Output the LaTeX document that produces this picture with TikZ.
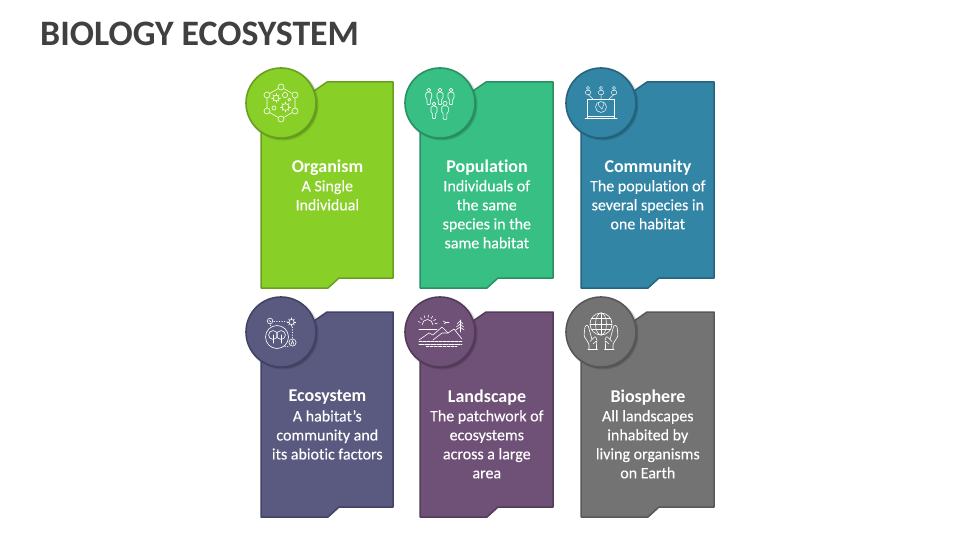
\documentclass[tikz,border=0pt]{standalone}
\usepackage{fontspec}
\setmainfont[Ligatures=NoCommon]{Carlito}
\newfontfamily\bodyfont[Ligatures=NoCommon,FakeBold=0.15]{Carlito}
\usetikzlibrary{calc}
\definecolor{cA}{HTML}{88D028}\definecolor{bA}{HTML}{6A9E20}
\definecolor{cB}{HTML}{38C084}\definecolor{bB}{HTML}{2A8F63}
\definecolor{cC}{HTML}{3385A6}\definecolor{bC}{HTML}{25647E}
\definecolor{cD}{HTML}{5A5A80}\definecolor{bD}{HTML}{424266}
\definecolor{cE}{HTML}{6F5076}\definecolor{bE}{HTML}{533C59}
\definecolor{cF}{HTML}{737373}\definecolor{bF}{HTML}{585858}
\definecolor{titlecol}{HTML}{404040}
\tikzset{
  ico/.style={draw=white,line width=0.6pt,line join=round,line cap=round},
  badge/.style={circle,minimum size=70pt,inner sep=0pt,line width=1.6pt},
  head/.style={text=white,font=\fontsize{18}{19}\selectfont\bfseries,inner sep=0pt,anchor=center},
  bodytext/.style={text=white,font=\fontsize{16}{19}\selectfont\bodyfont,inner sep=0pt,align=center,anchor=north},
}
% person: x, y, scale
\newcommand\personico[3]{%
  \begin{scope}[shift={(#1,#2)},scale=#3]
    \draw[ico] (0,-6) circle (1.9);
    \draw[ico,rounded corners=.7pt] (-1.5,-3.8) -- (1.5,-3.8) -- (3,-2.8) -- (3,2.2) -- (1.8,2.6) -- (1.6,8.5) -- (-1.6,8.5) -- (-1.8,2.6) -- (-3,2.2) -- (-3,-2.8) -- cycle;
  \end{scope}}
% gear: x, y, radius
\newcommand\gearico[3]{%
  \draw[ico] (#1,#2) circle (#3);
  \foreach \ang in {0,45,...,315}{\draw[ico] ($(#1,#2)+(\ang:#3)$) -- ($(#1,#2)+(\ang:#3+1.6)$);}}
\newcommand\icoOrganism{%
  \draw[ico] (0,-16) -- (14,-8) -- (14,8) -- (0,16) -- (-14,8) -- (-14,-8) -- cycle;
  \foreach \px/\py in {0/-16,14/-8,14/8,0/16,-14/8,-14/-8}{\draw[ico,fill=cA] (\px,\py) circle (3);}
  \gearico{-5}{-5}{2.8}\gearico{4.5}{4}{3.4}
  \draw[ico] (4,-8) circle (2.6) (8.3,-3.3) circle (1.5) (-7,5) circle (2);}
\newcommand\icoPopulation{%
  \personico{-11.3}{-7}{1}\personico{0}{-7}{1}\personico{11}{-7}{1}
  \personico{-6}{7}{1}\personico{5}{7}{1.1}}
\newcommand\icoCommunity{%
  \draw[ico,line width=.5pt] (-13.5,-4) rectangle (13,13);
  \draw[ico,line width=.5pt] (-16,15) -- (16,15);
  \draw[ico,line width=.5pt] (-13.5,13) -- (-13.5,15) (13,13) -- (13,15);
  \draw[ico,line width=.5pt] (0,4) circle (5.5);
  \draw[ico,line width=.4pt] (-2,-1) .. controls (-4,3) and (-1,3) .. (0,5) .. controls (1,8) and (2,5) .. (2,3) .. controls (4,2) and (3,0) .. (2,-1);
  \foreach \px in {-13,0,13}{
    \draw[ico,line width=.5pt] (\px,-15) circle (1.6);
    \draw[ico,line width=.5pt,rounded corners=1pt] (\px-2.4,-8.5) -- (\px-2.4,-12.5) -- (\px+2.4,-12.5) -- (\px+2.4,-8.5) -- cycle;}
  \draw[ico,line width=.5pt] (-13,-8.5) -- (-8,-4) (0,-8.5) -- (0,-4) (13,-8.5) -- (8,-4);}
\newcommand\icoEcosystem{%
  \draw[ico] (-4,5) circle (11.5);
  \foreach \px in {-8,0}{
    \draw[ico] (\px,3) circle (4.4);
    \draw[ico,line width=1pt] (\px,3) -- (\px,11);}
  \draw[ico,dotted] (-7,-11) -- (6,-11);
  \draw[ico,dotted] (11,-5) -- (11,8);
  \draw[ico,dotted] (7,14) -- (3,14);
  \draw[ico,dotted] (-11,-7) -- (-11,-6);
  \gearico{10.5}{-10}{2.6}
  \draw[ico] (-11,-11) circle (2.8);
  \draw[ico] (-12,-11.5) -- (-10,-10);
  \draw[ico] (11.5,10.5) circle (3.6);
  \draw[ico] (10,12.5) -- (11.5,8.8) -- (13,12.5);}
\newcommand\icoLandscape{%
  \draw[ico] (-18,-7) arc (180:360:5.5);
  \foreach \ang in {200,225,250,275,300,325,350}{\draw[ico] ($(-12.5,-7)+(\ang:7.5)$) -- ($(-12.5,-7)+(\ang:10)$);}
  \draw[ico] (-21,-3) -- (-3,-3);
  \draw[ico] (3,-11) -- (6,-9.5) -- (9,-9.5) (6,-9.5) -- (4,-8);
  \draw[ico] (-21,8) -- (-11,1) -- (-7,3) -- (2,-5) -- (8,1) -- (14,-3) -- (22,7);
  \draw[ico] (-7,8) -- (2,1) -- (8,1);
  \draw[ico] (20,0) -- (20,-12);
  \foreach \yy/\ww in {-8/3,-5/3.6,-2/4.2}{\draw[ico] (20-\ww,\yy) -- (20,\yy-3) -- (20+\ww,\yy);}
  \draw[ico,dash pattern=on 3pt off 1pt] (-21,9.5) -- (22,9.5);
  \draw[ico,dash pattern=on 5pt off 1pt] (-21,12) -- (22,12);
  \draw[ico,dash pattern=on 3pt off 1.2pt] (-14,14.5) -- (17,14.5);}
\newcommand\icoBiosphere{%
  \draw[ico] (0,-8) circle (11);
  \draw[ico] (0,-19) -- (0,3);
  \draw[ico] (0,-8) ellipse (5.5 and 11);
  \draw[ico] (-11,-8) -- (11,-8);
  \draw[ico] (-9.6,-13.5) -- (9.6,-13.5) (-9.6,-2.5) -- (9.6,-2.5);
  \foreach \sg in {-1,1}{
    \begin{scope}[xscale=\sg]
      \draw[ico,rounded corners=1.2pt] (4.5,17.5) -- (4.5,12) -- (4,8.5) -- (8,12) (4,8.5) -- (5.5,4) -- (11,9.5) (9,7.5) -- (13,-7) -- (16,-6) -- (17,4) -- (12,12) -- (12,17.5);
      \draw[ico] (3.5,17.5) -- (13,17.5);
    \end{scope}}}
% name, left, top, width, height, colour suffix, heading, body, icon
\newcommand\card[9]{%
  \fill[black,opacity=.10] (#2+20+2.5,#3+#5-185+2.5) circle (36.5);
  \draw[fill=c#6,draw=b#6,line width=1.5pt,line join=round]
    (#2+53,#3+9) -- (#2+66,#3) -- (#2+#4,#3) -- (#2+#4,#3+#5-10) -- (#2+78,#3+#5-10)
    -- (#2+67,#3+#5) -- (#2,#3+#5) -- (#2,#3+40) -- (#2+20,#3+21) -- cycle;
  \fill[black,opacity=.14] (#2+20+2,#3+#5-185+2) circle (35.5);
  \fill[black,opacity=.18] (#2+20+1.2,#3+#5-185+1.2) circle (35);
  \node[badge,fill=c#6,draw=b#6] (#1) at (#2+20,#3+#5-185) {};
  \begin{scope}[shift={(#1.center)}]#9\end{scope}
  \node[head] (#1-h) at (#2+#4/2+.5,#3+85.5) {#7};
  \node[bodytext] (#1-b) at (#2+#4/2+.3,#3+98) {#8};}
\begin{document}
\begin{tikzpicture}[x=1pt,y=-1pt]
\useasboundingbox (0,0) rectangle (960,540);
\fill[white] (0,0) rectangle (960,540);
\node[text=titlecol,font=\fontsize{35.8}{38}\selectfont\bfseries,anchor=west,inner sep=0pt] (title) at (40,34) {BIOLOGY ECOSYSTEM};
\card{a}{261}{82}{132}{206}{A}{Organism}{A Single\\Individual}{\icoOrganism}
\card{b}{420}{82}{133}{206}{B}{Population}{Individuals of\\the same\\species in the\\same habitat}{\icoPopulation}
\card{c}{581}{82}{133}{206}{C}{Community}{The population of\\several species in\\one habitat}{\icoCommunity}
\card{d}{261}{312}{132}{205}{D}{Ecosystem}{A habitat’s\\community and\\its abiotic factors}{\icoEcosystem}
\card{e}{420}{312}{133}{205}{E}{Landscape}{The patchwork of\\ecosystems\\across a large\\area}{\icoLandscape}
\card{f}{581}{312}{133}{205}{F}{Biosphere}{All landscapes\\inhabited by\\living organisms\\on Earth}{\icoBiosphere}
\end{tikzpicture}
\end{document}
